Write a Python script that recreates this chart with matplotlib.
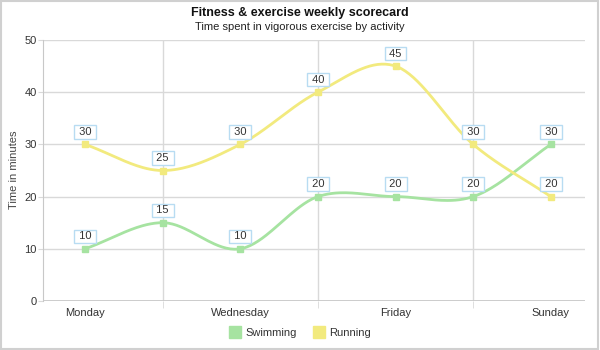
import numpy as np
import matplotlib.pyplot as plt
from matplotlib.patches import Rectangle

plt.rcParams['font.family'] = ['Liberation Sans', 'DejaVu Sans']

days = ['Monday', 'Tuesday', 'Wednesday', 'Thursday', 'Friday', 'Saturday', 'Sunday']
swimming = [10, 15, 10, 20, 20, 20, 30]
running = [30, 25, 30, 40, 45, 30, 20]

green = '#a6e3a1'
yellow = '#f2ea7e'


def smooth(xs, ys, n=40):
    # catmull-rom style curve through the points
    xs = np.asarray(xs, float)
    ys = np.asarray(ys, float)
    m = np.zeros_like(ys)
    m[1:-1] = (ys[2:] - ys[:-2]) / 2
    m[0] = ys[1] - ys[0]
    m[-1] = ys[-1] - ys[-2]
    out_x, out_y = [], []
    for i in range(len(xs) - 1):
        t = np.linspace(0, 1, n)
        h00 = 2 * t**3 - 3 * t**2 + 1
        h10 = t**3 - 2 * t**2 + t
        h01 = -2 * t**3 + 3 * t**2
        h11 = t**3 - t**2
        out_x.append(xs[i] + t * (xs[i + 1] - xs[i]))
        out_y.append(h00 * ys[i] + h10 * m[i] + h01 * ys[i + 1] + h11 * m[i + 1])
    return np.concatenate(out_x), np.concatenate(out_y)


fig = plt.figure(figsize=(6, 3.5), dpi=100)
fig.patches.append(Rectangle((0.002, 0.003), 0.995, 0.994, transform=fig.transFigure,
                             fill=False, edgecolor='#d0d0d0', linewidth=1.5))
ax = fig.add_axes([0.0717, 0.14, 0.9033, 0.7457])

x = np.arange(len(days))
ax.set_xlim(-0.54, 6.44)
ax.set_ylim(0, 50)

for v in [10, 20, 30, 40, 50]:
    ax.axhline(v, color='#d9d9d9', linewidth=1, zorder=0)
for i in [1, 3, 5]:
    ax.axvline(i, color='#d9d9d9', linewidth=1, zorder=0)
ax.axhline(0, color='#c8c8c8', linewidth=2, zorder=1)

for s in ['top', 'right', 'bottom']:
    ax.spines[s].set_visible(False)
ax.spines['left'].set_color('#c8c8c8')

ax.set_yticks([0, 10, 20, 30, 40, 50])
ax.tick_params(axis='y', length=3.5, color='#d9d9d9', labelsize=8, labelcolor='#333333', pad=1)
ax.set_xticks([0, 2, 4, 6])
ax.set_xticklabels(['Monday', 'Wednesday', 'Friday', 'Sunday'])
ax.set_xticks([1, 3, 5], minor=True)
ax.tick_params(axis='x', which='major', length=0, labelsize=8, labelcolor='#333333', pad=5)
ax.tick_params(axis='x', which='minor', length=5, color='#d9d9d9')

fig.text(0.024, 0.515, 'Time in minutes', rotation=90, ha='center', va='center',
         fontsize=8, color='#444444')

handles = []
for vals, col, name in [(swimming, green, 'Swimming'), (running, yellow, 'Running')]:
    sx, sy = smooth(x, vals)
    ax.plot(sx, sy, color=col, linewidth=2, zorder=3)
    ax.plot(x, vals, 's', color=col, markersize=4, zorder=4)
    for xi, v in zip(x, vals):
        ax.annotate(f' {v} ', (xi, v), xytext=(0, 9), textcoords='offset points',
                    ha='center', va='center', fontsize=8, color='#333333', zorder=5,
                    bbox=dict(boxstyle='square,pad=0.15', facecolor='white',
                              edgecolor='#b8dcf2', linewidth=1))
    h, = ax.plot([], [], 's', color=col, markersize=8, label=name)
    handles.append(h)

fig.legend(handles=handles, loc='center', bbox_to_anchor=(0.5, 0.05), ncol=2, frameon=False,
           fontsize=8, handlelength=1, handletextpad=0.4, columnspacing=1.5,
           labelcolor='#333333')

fig.text(0.5, 0.962, 'Fitness & exercise weekly scorecard', ha='center', va='center',
         fontsize=9, fontweight='bold', color='#111111')
fig.text(0.5, 0.922, 'Time spent in vigorous exercise by activity', ha='center', va='center',
         fontsize=8, color='#222222')

fig.savefig('out.png', dpi=100)
